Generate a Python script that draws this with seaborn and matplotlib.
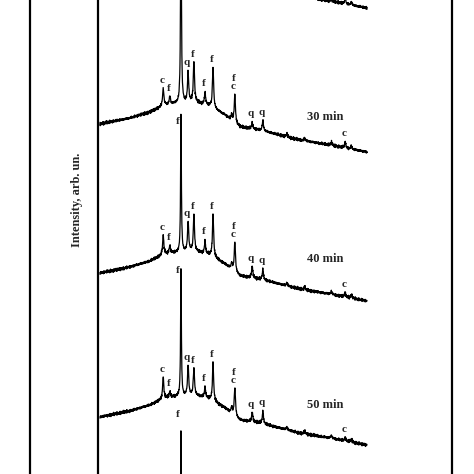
import numpy as np
import pandas as pd
import matplotlib
matplotlib.use("Agg")
import matplotlib.pyplot as plt
import seaborn as sns

sns.set_style("white")
plt.rcParams['font.family'] = ['Liberation Serif', 'DejaVu Serif']

# ---- data (2-theta in degrees, intensity in arbitrary units, top-down offset scale) ----
two_theta_knots = [10, 16.7, 21.2, 24.6, 28, 31.3, 34.7, 38.1, 41.5, 46, 50.4, 54.9, 61.7, 70]
# baseline shape (larger = lower on the stacked plot)
baseline_shape = [0, -6, -12, -19, -21, -22, -18, -9, 3, 6, 11, 16, 21, 28]

peak_pos = [24.2, 25.7, 28.2, 29.8, 31.1, 33.6, 35.4, 39.6, 40.3, 44.2, 46.6, 52.0, 56.0, 62.0, 65.1, 66.5]
peak_lbl = ['c', 'f', '', 'q', 'f', 'f', 'f', '', 'f\nc', 'q', 'q', '', '', '', 'c', '']

traces = ['20 min', '30 min', '40 min', '50 min', '60 min']
offsets = [-20, 124, 273, 417, 560]
main_peak = [160, 240, 140, 130, 110]
peak_heights = {
    '20 min': [18, 8, 0, 30, 40, 14, 40, 6, 28, 8, 8, 3, 3, 3, 6, 3],
    '30 min': [18, 8, 0, 30, 40, 12, 40, 6, 28, 6, 10, 3, 3, 3, 6, 3],
    '40 min': [20, 8, 0, 30, 36, 12, 42, 6, 30, 12, 10, 3, 3, 3, 4, 3],
    '50 min': [22, 6, 0, 30, 26, 10, 38, 6, 28, 10, 12, 3, 3, 3, 3, 3],
    '60 min': [20, 8, 0, 30, 30, 12, 40, 8, 30, 10, 10, 3, 3, 3, 3, 3],
}
show_labels = {'30 min': 117, '40 min': 259, '50 min': 405}

x = np.linspace(10, 70, 1400)
PX = 4.45  # pixels per degree


def trace_y(name, off, big):
    base = off + np.interp(x, two_theta_knots, baseline_shape)
    h = list(peak_heights[name])
    h[2] = big
    y = base.copy()
    for p, a in zip(peak_pos, h):
        w = 0.1 if a > 50 else 0.16
        y -= a / (1 + ((x - p) / w) ** 2)
    # detector counting ripple
    y -= 1.1 * (np.sin(x * 37.0) * np.sin(x * 11.3 + off) + np.sin(x * 53.0 + 2 * off) * np.cos(x * 4.1))
    return base, y


fig = plt.figure(figsize=(4.74, 4.74), dpi=100)
ax = fig.add_axes([30 / 474, 0, 422 / 474, 1])
ax.set_xlim(10 - 70 / PX, 70 + 85 / PX)
ax.set_ylim(474, 0)

for name, off, big in zip(traces, offsets, main_peak):
    base, y = trace_y(name, off, big)
    df = pd.DataFrame({'2theta': x, 'I': y})
    sns.lineplot(data=df, x='2theta', y='I', ax=ax, color='black', lw=0.9, sort=False)
    if name not in show_labels:
        continue
    ax.text(56.5, show_labels[name], name, fontsize=9, fontweight='bold', va='center')
    for p, lbl in zip(peak_pos, peak_lbl):
        if not lbl:
            continue
        i = np.argmin(np.abs(x - p))
        top = y[max(i - 3, 0):i + 4].min()
        ax.text(p - 0.3, top - 3, lbl, fontsize=8, fontweight='bold', ha='center', va='bottom',
                linespacing=0.9)
    # label of the next trace's main peak sits just below this trace
    i = np.argmin(np.abs(x - 28.2))
    ax.text(28.2 - 0.4, base[i] + 14, 'f', fontsize=8, fontweight='bold', ha='right', va='top')

ax.axvline(10 - 2 / PX, color='black', lw=1.6)
ax.set_xticks([])
ax.set_yticks([])
ax.set_xlabel('')
ax.set_ylabel('')
for s in ax.spines.values():
    s.set_linewidth(1.6)
    s.set_color('black')
ax.spines['top'].set_visible(False)
ax.spines['bottom'].set_visible(False)

fig.text(77 / 474, 1 - 200 / 474, 'Intensity, arb. un.', rotation=90, fontsize=9,
         fontweight='bold', ha='center', va='center')

fig.savefig('out.png', dpi=100)
